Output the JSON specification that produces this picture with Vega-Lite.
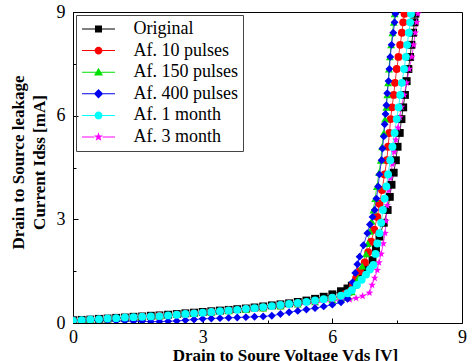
{
  "$schema": "https://vega.github.io/schema/vega-lite/v6.json",
  "width": 389,
  "height": 311,
  "autosize": "none",
  "padding": {"left": 73, "top": 12, "right": 12, "bottom": 38},
  "background": "white",
  "config": {
    "view": {"stroke": "black", "strokeWidth": 1},
    "axis": {"domainColor": "black", "tickColor": "black", "labelColor": "black", "titleColor": "black", "grid": false, "labelFont": "Liberation Serif", "titleFont": "Liberation Serif", "zindex": 1}
  },
  "data": {
    "values": [
      {"s":"Original","v":0,"i":0.08},{"s":"Original","v":0.2,"i":0.09},{"s":"Original","v":0.4,"i":0.1},{"s":"Original","v":0.6,"i":0.12},{"s":"Original","v":0.8,"i":0.13},{"s":"Original","v":1,"i":0.15},{"s":"Original","v":1.2,"i":0.16},{"s":"Original","v":1.4,"i":0.18},{"s":"Original","v":1.6,"i":0.19},{"s":"Original","v":1.8,"i":0.21},{"s":"Original","v":2,"i":0.22},{"s":"Original","v":2.2,"i":0.24},{"s":"Original","v":2.4,"i":0.26},{"s":"Original","v":2.6,"i":0.28},{"s":"Original","v":2.8,"i":0.3},{"s":"Original","v":3,"i":0.32},{"s":"Original","v":3.2,"i":0.34},{"s":"Original","v":3.4,"i":0.36},{"s":"Original","v":3.6,"i":0.38},{"s":"Original","v":3.8,"i":0.4},{"s":"Original","v":4,"i":0.42},{"s":"Original","v":4.2,"i":0.45},{"s":"Original","v":4.4,"i":0.48},{"s":"Original","v":4.6,"i":0.51},{"s":"Original","v":4.8,"i":0.54},{"s":"Original","v":5,"i":0.57},{"s":"Original","v":5.2,"i":0.61},{"s":"Original","v":5.4,"i":0.65},{"s":"Original","v":5.6,"i":0.7},{"s":"Original","v":5.8,"i":0.76},{"s":"Original","v":6,"i":0.83},{"s":"Original","v":6.2,"i":0.92},{"s":"Original","v":6.35,"i":1.0},
      {"s":"Original","v":6.45,"i":1.08},{"s":"Original","v":6.59,"i":1.3},{"s":"Original","v":6.75,"i":1.55},{"s":"Original","v":6.93,"i":1.82},{"s":"Original","v":7.01,"i":2.15},{"s":"Original","v":7.09,"i":2.5},{"s":"Original","v":7.19,"i":2.9},{"s":"Original","v":7.28,"i":3.27},{"s":"Original","v":7.33,"i":3.65},{"s":"Original","v":7.37,"i":4.0},{"s":"Original","v":7.42,"i":4.35},{"s":"Original","v":7.47,"i":4.71},{"s":"Original","v":7.51,"i":5.1},{"s":"Original","v":7.56,"i":5.5},{"s":"Original","v":7.6,"i":5.9},{"s":"Original","v":7.64,"i":6.24},{"s":"Original","v":7.68,"i":6.6},{"s":"Original","v":7.72,"i":7.0},{"s":"Original","v":7.76,"i":7.35},{"s":"Original","v":7.8,"i":7.7},{"s":"Original","v":7.83,"i":8.05},{"s":"Original","v":7.87,"i":8.4},{"s":"Original","v":7.9,"i":8.7},{"s":"Original","v":7.92,"i":8.95},{"s":"Original","v":7.95,"i":9.2},

      {"s":"Af. 10 pulses","v":0,"i":0.07},{"s":"Af. 10 pulses","v":0.4,"i":0.09},{"s":"Af. 10 pulses","v":0.8,"i":0.12},{"s":"Af. 10 pulses","v":1.2,"i":0.15},{"s":"Af. 10 pulses","v":1.6,"i":0.18},{"s":"Af. 10 pulses","v":2,"i":0.21},{"s":"Af. 10 pulses","v":2.4,"i":0.24},{"s":"Af. 10 pulses","v":2.8,"i":0.28},{"s":"Af. 10 pulses","v":3.2,"i":0.32},{"s":"Af. 10 pulses","v":3.6,"i":0.36},{"s":"Af. 10 pulses","v":4,"i":0.4},{"s":"Af. 10 pulses","v":4.4,"i":0.45},{"s":"Af. 10 pulses","v":4.8,"i":0.51},{"s":"Af. 10 pulses","v":5.2,"i":0.57},{"s":"Af. 10 pulses","v":5.6,"i":0.64},{"s":"Af. 10 pulses","v":6,"i":0.72},{"s":"Af. 10 pulses","v":6.2,"i":0.78},{"s":"Af. 10 pulses","v":6.3,"i":0.84},
      {"s":"Af. 10 pulses","v":6.4,"i":0.9},{"s":"Af. 10 pulses","v":6.48,"i":1.1},{"s":"Af. 10 pulses","v":6.55,"i":1.3},{"s":"Af. 10 pulses","v":6.64,"i":1.5},{"s":"Af. 10 pulses","v":6.75,"i":1.75},{"s":"Af. 10 pulses","v":6.83,"i":2.05},{"s":"Af. 10 pulses","v":6.9,"i":2.35},{"s":"Af. 10 pulses","v":6.97,"i":2.7},{"s":"Af. 10 pulses","v":7.04,"i":3.07},{"s":"Af. 10 pulses","v":7.09,"i":3.45},{"s":"Af. 10 pulses","v":7.15,"i":3.85},{"s":"Af. 10 pulses","v":7.21,"i":4.3},{"s":"Af. 10 pulses","v":7.26,"i":4.71},{"s":"Af. 10 pulses","v":7.29,"i":5.1},{"s":"Af. 10 pulses","v":7.32,"i":5.5},{"s":"Af. 10 pulses","v":7.35,"i":5.9},{"s":"Af. 10 pulses","v":7.38,"i":6.24},{"s":"Af. 10 pulses","v":7.42,"i":6.6},{"s":"Af. 10 pulses","v":7.45,"i":6.95},{"s":"Af. 10 pulses","v":7.49,"i":7.35},{"s":"Af. 10 pulses","v":7.53,"i":7.7},{"s":"Af. 10 pulses","v":7.57,"i":8.05},{"s":"Af. 10 pulses","v":7.61,"i":8.4},{"s":"Af. 10 pulses","v":7.64,"i":8.7},{"s":"Af. 10 pulses","v":7.67,"i":8.95},{"s":"Af. 10 pulses","v":7.7,"i":9.2},

      {"s":"Af. 150 pulses","v":0,"i":0.07},{"s":"Af. 150 pulses","v":0.4,"i":0.09},{"s":"Af. 150 pulses","v":0.8,"i":0.12},{"s":"Af. 150 pulses","v":1.2,"i":0.15},{"s":"Af. 150 pulses","v":1.6,"i":0.18},{"s":"Af. 150 pulses","v":2,"i":0.21},{"s":"Af. 150 pulses","v":2.4,"i":0.24},{"s":"Af. 150 pulses","v":2.8,"i":0.27},{"s":"Af. 150 pulses","v":3.2,"i":0.31},{"s":"Af. 150 pulses","v":3.6,"i":0.35},{"s":"Af. 150 pulses","v":4,"i":0.39},{"s":"Af. 150 pulses","v":4.4,"i":0.43},{"s":"Af. 150 pulses","v":4.8,"i":0.49},{"s":"Af. 150 pulses","v":5.2,"i":0.55},{"s":"Af. 150 pulses","v":5.6,"i":0.61},{"s":"Af. 150 pulses","v":6,"i":0.67},{"s":"Af. 150 pulses","v":6.2,"i":0.7},{"s":"Af. 150 pulses","v":6.38,"i":0.75},
      {"s":"Af. 150 pulses","v":6.45,"i":0.9},{"s":"Af. 150 pulses","v":6.53,"i":1.1},{"s":"Af. 150 pulses","v":6.6,"i":1.3},{"s":"Af. 150 pulses","v":6.69,"i":1.65},{"s":"Af. 150 pulses","v":6.78,"i":2.0},{"s":"Af. 150 pulses","v":6.82,"i":2.3},{"s":"Af. 150 pulses","v":6.87,"i":2.65},{"s":"Af. 150 pulses","v":6.91,"i":2.95},{"s":"Af. 150 pulses","v":6.95,"i":3.27},{"s":"Af. 150 pulses","v":6.99,"i":3.6},{"s":"Af. 150 pulses","v":7.03,"i":3.95},{"s":"Af. 150 pulses","v":7.08,"i":4.35},{"s":"Af. 150 pulses","v":7.12,"i":4.71},{"s":"Af. 150 pulses","v":7.15,"i":5.1},{"s":"Af. 150 pulses","v":7.19,"i":5.5},{"s":"Af. 150 pulses","v":7.22,"i":5.9},{"s":"Af. 150 pulses","v":7.25,"i":6.24},{"s":"Af. 150 pulses","v":7.27,"i":6.6},{"s":"Af. 150 pulses","v":7.29,"i":6.95},{"s":"Af. 150 pulses","v":7.31,"i":7.35},{"s":"Af. 150 pulses","v":7.33,"i":7.7},{"s":"Af. 150 pulses","v":7.36,"i":8.05},{"s":"Af. 150 pulses","v":7.39,"i":8.4},{"s":"Af. 150 pulses","v":7.42,"i":8.7},{"s":"Af. 150 pulses","v":7.44,"i":8.95},{"s":"Af. 150 pulses","v":7.47,"i":9.2},

      {"s":"Af. 3 month","v":0,"i":0.06},{"s":"Af. 3 month","v":0.4,"i":0.08},{"s":"Af. 3 month","v":0.8,"i":0.11},{"s":"Af. 3 month","v":1.2,"i":0.14},{"s":"Af. 3 month","v":1.6,"i":0.17},{"s":"Af. 3 month","v":2,"i":0.2},{"s":"Af. 3 month","v":2.4,"i":0.23},{"s":"Af. 3 month","v":2.8,"i":0.27},{"s":"Af. 3 month","v":3.2,"i":0.31},{"s":"Af. 3 month","v":3.6,"i":0.35},{"s":"Af. 3 month","v":4,"i":0.39},{"s":"Af. 3 month","v":4.4,"i":0.43},{"s":"Af. 3 month","v":4.8,"i":0.48},{"s":"Af. 3 month","v":5.2,"i":0.53},{"s":"Af. 3 month","v":5.6,"i":0.58},{"s":"Af. 3 month","v":6,"i":0.63},{"s":"Af. 3 month","v":6.2,"i":0.66},{"s":"Af. 3 month","v":6.4,"i":0.68},
      {"s":"Af. 3 month","v":6.55,"i":0.72},{"s":"Af. 3 month","v":6.7,"i":0.78},{"s":"Af. 3 month","v":6.86,"i":0.87},{"s":"Af. 3 month","v":6.92,"i":1.1},{"s":"Af. 3 month","v":6.98,"i":1.3},{"s":"Af. 3 month","v":7.04,"i":1.53},{"s":"Af. 3 month","v":7.08,"i":1.75},{"s":"Af. 3 month","v":7.13,"i":2.0},{"s":"Af. 3 month","v":7.18,"i":2.3},{"s":"Af. 3 month","v":7.22,"i":2.6},{"s":"Af. 3 month","v":7.24,"i":2.95},{"s":"Af. 3 month","v":7.27,"i":3.4},{"s":"Af. 3 month","v":7.3,"i":3.84},{"s":"Af. 3 month","v":7.34,"i":4.2},{"s":"Af. 3 month","v":7.39,"i":4.6},{"s":"Af. 3 month","v":7.43,"i":4.95},{"s":"Af. 3 month","v":7.47,"i":5.3},{"s":"Af. 3 month","v":7.52,"i":5.65},{"s":"Af. 3 month","v":7.56,"i":5.95},{"s":"Af. 3 month","v":7.6,"i":6.25},{"s":"Af. 3 month","v":7.66,"i":6.6},{"s":"Af. 3 month","v":7.72,"i":6.95},{"s":"Af. 3 month","v":7.78,"i":7.35},{"s":"Af. 3 month","v":7.84,"i":7.7},{"s":"Af. 3 month","v":7.88,"i":8.05},{"s":"Af. 3 month","v":7.92,"i":8.4},{"s":"Af. 3 month","v":7.95,"i":8.7},{"s":"Af. 3 month","v":7.98,"i":8.95},{"s":"Af. 3 month","v":8.0,"i":9.2},

      {"s":"Af. 400 pulses","v":0,"i":0.07},{"s":"Af. 400 pulses","v":0.2,"i":0.07},{"s":"Af. 400 pulses","v":0.4,"i":0.07},{"s":"Af. 400 pulses","v":0.6,"i":0.07},{"s":"Af. 400 pulses","v":0.8,"i":0.07},{"s":"Af. 400 pulses","v":1,"i":0.06},{"s":"Af. 400 pulses","v":1.2,"i":0.06},{"s":"Af. 400 pulses","v":1.4,"i":0.05},{"s":"Af. 400 pulses","v":1.6,"i":0.05},{"s":"Af. 400 pulses","v":1.8,"i":0.04},{"s":"Af. 400 pulses","v":2,"i":0.04},{"s":"Af. 400 pulses","v":2.2,"i":0.05},{"s":"Af. 400 pulses","v":2.4,"i":0.06},{"s":"Af. 400 pulses","v":2.6,"i":0.08},{"s":"Af. 400 pulses","v":2.8,"i":0.1},{"s":"Af. 400 pulses","v":3,"i":0.12},{"s":"Af. 400 pulses","v":3.2,"i":0.13},{"s":"Af. 400 pulses","v":3.4,"i":0.14},{"s":"Af. 400 pulses","v":3.6,"i":0.15},{"s":"Af. 400 pulses","v":3.8,"i":0.16},{"s":"Af. 400 pulses","v":4,"i":0.17},{"s":"Af. 400 pulses","v":4.2,"i":0.18},{"s":"Af. 400 pulses","v":4.4,"i":0.19},{"s":"Af. 400 pulses","v":4.6,"i":0.21},{"s":"Af. 400 pulses","v":4.8,"i":0.26},{"s":"Af. 400 pulses","v":5,"i":0.31},{"s":"Af. 400 pulses","v":5.2,"i":0.35},{"s":"Af. 400 pulses","v":5.4,"i":0.39},{"s":"Af. 400 pulses","v":5.6,"i":0.43},{"s":"Af. 400 pulses","v":5.8,"i":0.48},{"s":"Af. 400 pulses","v":6,"i":0.53},{"s":"Af. 400 pulses","v":6.2,"i":0.6},{"s":"Af. 400 pulses","v":6.35,"i":0.7},
      {"s":"Af. 400 pulses","v":6.43,"i":0.95},{"s":"Af. 400 pulses","v":6.47,"i":1.18},{"s":"Af. 400 pulses","v":6.53,"i":1.45},{"s":"Af. 400 pulses","v":6.58,"i":1.7},{"s":"Af. 400 pulses","v":6.63,"i":1.92},{"s":"Af. 400 pulses","v":6.72,"i":2.25},{"s":"Af. 400 pulses","v":6.81,"i":2.6},{"s":"Af. 400 pulses","v":6.87,"i":2.85},{"s":"Af. 400 pulses","v":6.93,"i":3.07},{"s":"Af. 400 pulses","v":6.98,"i":3.27},{"s":"Af. 400 pulses","v":7.02,"i":3.6},{"s":"Af. 400 pulses","v":7.06,"i":3.95},{"s":"Af. 400 pulses","v":7.09,"i":4.3},{"s":"Af. 400 pulses","v":7.14,"i":4.71},{"s":"Af. 400 pulses","v":7.16,"i":5.05},{"s":"Af. 400 pulses","v":7.19,"i":5.4},{"s":"Af. 400 pulses","v":7.21,"i":5.75},{"s":"Af. 400 pulses","v":7.23,"i":6.05},{"s":"Af. 400 pulses","v":7.25,"i":6.3},{"s":"Af. 400 pulses","v":7.27,"i":6.65},{"s":"Af. 400 pulses","v":7.3,"i":7.0},{"s":"Af. 400 pulses","v":7.32,"i":7.35},{"s":"Af. 400 pulses","v":7.34,"i":7.7},{"s":"Af. 400 pulses","v":7.37,"i":8.05},{"s":"Af. 400 pulses","v":7.41,"i":8.4},{"s":"Af. 400 pulses","v":7.44,"i":8.7},{"s":"Af. 400 pulses","v":7.46,"i":8.95},{"s":"Af. 400 pulses","v":7.49,"i":9.3},

      {"s":"Af. 1 month","v":0,"i":0.07},{"s":"Af. 1 month","v":0.2,"i":0.08},{"s":"Af. 1 month","v":0.4,"i":0.1},{"s":"Af. 1 month","v":0.6,"i":0.11},{"s":"Af. 1 month","v":0.8,"i":0.13},{"s":"Af. 1 month","v":1,"i":0.14},{"s":"Af. 1 month","v":1.2,"i":0.16},{"s":"Af. 1 month","v":1.4,"i":0.17},{"s":"Af. 1 month","v":1.6,"i":0.18},{"s":"Af. 1 month","v":1.8,"i":0.19},{"s":"Af. 1 month","v":2,"i":0.2},{"s":"Af. 1 month","v":2.2,"i":0.22},{"s":"Af. 1 month","v":2.4,"i":0.24},{"s":"Af. 1 month","v":2.6,"i":0.26},{"s":"Af. 1 month","v":2.8,"i":0.28},{"s":"Af. 1 month","v":3,"i":0.3},{"s":"Af. 1 month","v":3.2,"i":0.32},{"s":"Af. 1 month","v":3.4,"i":0.34},{"s":"Af. 1 month","v":3.6,"i":0.36},{"s":"Af. 1 month","v":3.8,"i":0.38},{"s":"Af. 1 month","v":4,"i":0.41},{"s":"Af. 1 month","v":4.2,"i":0.43},{"s":"Af. 1 month","v":4.4,"i":0.46},{"s":"Af. 1 month","v":4.6,"i":0.49},{"s":"Af. 1 month","v":4.8,"i":0.52},{"s":"Af. 1 month","v":5,"i":0.55},{"s":"Af. 1 month","v":5.2,"i":0.58},{"s":"Af. 1 month","v":5.4,"i":0.61},{"s":"Af. 1 month","v":5.6,"i":0.65},{"s":"Af. 1 month","v":5.8,"i":0.69},{"s":"Af. 1 month","v":6,"i":0.73},{"s":"Af. 1 month","v":6.2,"i":0.79},{"s":"Af. 1 month","v":6.35,"i":0.86},
      {"s":"Af. 1 month","v":6.45,"i":0.95},{"s":"Af. 1 month","v":6.57,"i":1.1},{"s":"Af. 1 month","v":6.68,"i":1.25},{"s":"Af. 1 month","v":6.78,"i":1.4},{"s":"Af. 1 month","v":6.87,"i":1.55},{"s":"Af. 1 month","v":6.95,"i":1.68},{"s":"Af. 1 month","v":7.0,"i":2.0},{"s":"Af. 1 month","v":7.04,"i":2.3},{"s":"Af. 1 month","v":7.09,"i":2.6},{"s":"Af. 1 month","v":7.13,"i":2.9},{"s":"Af. 1 month","v":7.17,"i":3.27},{"s":"Af. 1 month","v":7.21,"i":3.6},{"s":"Af. 1 month","v":7.25,"i":3.95},{"s":"Af. 1 month","v":7.29,"i":4.3},{"s":"Af. 1 month","v":7.34,"i":4.71},{"s":"Af. 1 month","v":7.39,"i":5.1},{"s":"Af. 1 month","v":7.44,"i":5.5},{"s":"Af. 1 month","v":7.49,"i":5.9},{"s":"Af. 1 month","v":7.53,"i":6.24},{"s":"Af. 1 month","v":7.57,"i":6.6},{"s":"Af. 1 month","v":7.61,"i":6.95},{"s":"Af. 1 month","v":7.66,"i":7.35},{"s":"Af. 1 month","v":7.7,"i":7.7},{"s":"Af. 1 month","v":7.73,"i":8.05},{"s":"Af. 1 month","v":7.77,"i":8.4},{"s":"Af. 1 month","v":7.8,"i":8.7},{"s":"Af. 1 month","v":7.82,"i":8.95},{"s":"Af. 1 month","v":7.85,"i":9.2}
    ]
  },
  "resolve": {"axis": {"x": "independent", "y": "independent"}, "scale": {"shape": "independent", "color": "independent"}},
  "layer": [
    {
      "mark": {"type": "line", "strokeWidth": 0.8, "clip": true},
      "encoding": {
        "x": {"field": "v", "type": "quantitative", "scale": {"domain": [0, 9], "nice": false},
          "axis": {"orient": "bottom", "values": [0, 3, 6, 9], "ticks": false, "labelPadding": 5, "labelFontSize": 18, "labelFlush": false,
            "title": "Drain to Soure Voltage Vds [V]", "titleFontSize": 17, "titleFontWeight": "bold", "titleX": 212, "titleY": 24, "titleBaseline": "top"}},
        "y": {"field": "i", "type": "quantitative", "scale": {"domain": [0, 9], "nice": false},
          "axis": {"orient": "left", "values": [0, 3, 6, 9], "ticks": false, "labelPadding": 8, "labelFontSize": 18, "labelFlush": false,
            "title": ["Drain to Source leakage", "Current Idss [mA]"], "titleFontSize": 17, "titleFontWeight": "bold", "titleAngle": 270, "titleBaseline": "middle", "titleAlign": "center", "titleLineHeight": 21, "titleX": -55, "titleY": 150}},
        "stroke": {"field": "s", "type": "nominal", "legend": null,
          "scale": {"domain": ["Original", "Af. 10 pulses", "Af. 150 pulses", "Af. 400 pulses", "Af. 1 month", "Af. 3 month"],
            "range": ["#000000", "#ff0000", "#00e000", "#0000f0", "#00ffff", "#ff00ff"]}},
        "detail": {"field": "s", "type": "nominal"}
      }
    },
    {
      "mark": {"type": "point", "filled": true, "opacity": 1, "size": 62, "clip": true},
      "encoding": {
        "x": {"field": "v", "type": "quantitative",
          "axis": {"orient": "bottom", "values": [0, 1.5, 3, 4.5, 6, 7.5, 9], "labels": false, "domain": false, "title": null, "ticks": true,
            "tickSize": {"condition": {"test": "datum.value % 3 === 0", "value": -5}, "value": -3}}},
        "y": {"field": "i", "type": "quantitative",
          "axis": {"orient": "left", "values": [0, 1.5, 3, 4.5, 6, 7.5, 9], "labels": false, "domain": false, "title": null, "ticks": true,
            "tickSize": {"condition": {"test": "datum.value % 3 === 0", "value": -5}, "value": -3}}},
        "fill": {"field": "s", "type": "nominal", "legend": null,
          "scale": {"domain": ["Original", "Af. 10 pulses", "Af. 150 pulses", "Af. 400 pulses", "Af. 1 month", "Af. 3 month"],
            "range": ["#000000", "#ff0000", "#00e000", "#0000f0", "#00ffff", "#ff00ff"]}},
        "shape": {"field": "s", "type": "nominal", "legend": null,
          "scale": {"domain": ["Original", "Af. 10 pulses", "Af. 150 pulses", "Af. 400 pulses", "Af. 1 month", "Af. 3 month"],
            "range": ["square", "circle", "triangle-up", "diamond", "circle", "M0,-1L0.245,-0.337L0.951,-0.309L0.397,0.129L0.588,0.809L0,0.417L-0.588,0.809L-0.397,0.129L-0.951,-0.309L-0.245,-0.337Z"]}}
      }
    },
    {
      "transform": [{"filter": "datum.i < 0"}],
      "mark": {"type": "point", "filled": true, "opacity": 1, "size": 62},
      "encoding": {
        "color": {"field": "s", "type": "nominal",
          "scale": {"domain": ["Original", "Af. 10 pulses", "Af. 150 pulses", "Af. 400 pulses", "Af. 1 month", "Af. 3 month"],
            "range": ["#000000", "#ff0000", "#00e000", "#0000f0", "#00ffff", "#ff00ff"]},
          "legend": {"orient": "top-left", "offset": 3, "title": null, "labelFont": "Liberation Serif", "labelFontSize": 18, "labelColor": "black",
            "symbolSize": 324, "symbolStrokeWidth": 0, "symbolOpacity": 1, "symbolOffset": 8.5, "labelOffset": 26, "rowPadding": 3.6, "padding": 5,
            "strokeColor": "#444444"}},
        "shape": {"field": "s", "type": "nominal",
          "scale": {"domain": ["Original", "Af. 10 pulses", "Af. 150 pulses", "Af. 400 pulses", "Af. 1 month", "Af. 3 month"],
            "range": [
              "M-1.83,-0.055H-0.39V0.055H-1.83ZM0.39,-0.055H1.83V0.055H0.39ZM-0.39,-0.39H0.39V0.39H-0.39Z",
              "M-1.83,-0.055H-0.44V0.055H-1.83ZM0.44,-0.055H1.83V0.055H0.44ZM-0.44,0A0.44,0.44,0,1,1,0.44,0A0.44,0.44,0,1,1,-0.44,0Z",
              "M-1.83,-0.055H-0.3V0.055H-1.83ZM0.3,-0.055H1.83V0.055H0.3ZM0,-0.5L0.5,0.38L-0.5,0.38Z",
              "M-1.83,-0.055H-0.5V0.055H-1.83ZM0.5,-0.055H1.83V0.055H0.5ZM0,-0.52L0.52,0L0,0.52L-0.52,0Z",
              "M-1.83,-0.055H-0.44V0.055H-1.83ZM0.44,-0.055H1.83V0.055H0.44ZM-0.44,0A0.44,0.44,0,1,1,0.44,0A0.44,0.44,0,1,1,-0.44,0Z",
              "M-1.83,-0.055H-0.45V0.055H-1.83ZM0.45,-0.055H1.83V0.055H0.45ZM0,-0.52L0.129,-0.178L0.495,-0.161L0.209,0.068L0.306,0.421L0,0.22L-0.306,0.421L-0.209,0.068L-0.495,-0.161L-0.129,-0.178Z"
            ]}}
      }
    }
  ]
}
